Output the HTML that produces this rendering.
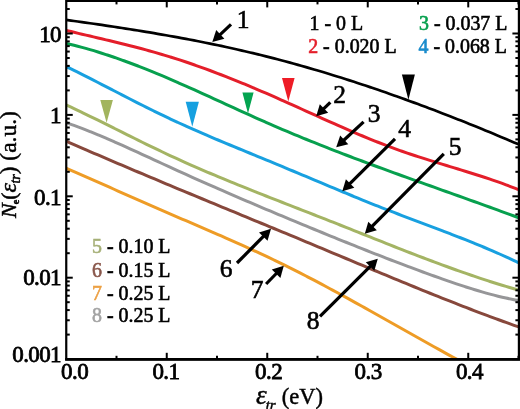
<!DOCTYPE html>
<html><head><meta charset="utf-8"><style>html,body{margin:0;padding:0;background:#fff;}svg{display:block;}</style></head>
<body><svg width="520" height="409" viewBox="0 0 520 409">
<rect width="520" height="409" fill="#fff"/>
<defs><clipPath id="c"><rect x="66" y="0" width="453" height="360"/></clipPath></defs>
<g clip-path="url(#c)" fill="none" stroke-width="3" stroke-linejoin="round" stroke-linecap="round">
<path d="M66.00,168.16 C67.33,168.74 71.33,170.48 74.00,171.64 C76.67,172.80 79.33,173.97 82.00,175.14 C84.67,176.31 87.33,177.48 90.00,178.65 C92.67,179.83 95.33,181.00 98.00,182.18 C100.67,183.36 103.33,184.53 106.00,185.71 C108.67,186.89 111.33,188.07 114.00,189.25 C116.67,190.43 119.33,191.61 122.00,192.79 C124.67,193.97 127.33,195.15 130.00,196.33 C132.67,197.50 135.33,198.68 138.00,199.86 C140.67,201.03 143.33,202.21 146.00,203.38 C148.67,204.55 151.33,205.72 154.00,206.88 C156.67,208.05 159.33,209.22 162.00,210.38 C164.67,211.54 167.33,212.69 170.00,213.85 C172.67,215.00 175.33,216.15 178.00,217.30 C180.67,218.45 183.33,219.59 186.00,220.74 C188.67,221.89 191.33,223.03 194.00,224.18 C196.67,225.33 199.33,226.47 202.00,227.62 C204.67,228.77 207.33,229.92 210.00,231.07 C212.67,232.23 215.33,233.38 218.00,234.55 C220.67,235.71 223.33,236.87 226.00,238.04 C228.67,239.22 231.33,240.39 234.00,241.58 C236.67,242.76 239.33,243.95 242.00,245.15 C244.67,246.35 247.33,247.55 250.00,248.77 C252.67,249.99 255.33,251.21 258.00,252.45 C260.67,253.68 263.33,254.93 266.00,256.19 C268.67,257.45 271.33,258.72 274.00,260.00 C276.67,261.28 279.33,262.58 282.00,263.89 C284.67,265.20 287.33,266.52 290.00,267.86 C292.67,269.19 295.33,270.54 298.00,271.90 C300.67,273.26 303.33,274.63 306.00,276.01 C308.67,277.39 311.33,278.78 314.00,280.19 C316.67,281.59 319.33,283.00 322.00,284.42 C324.67,285.84 327.33,287.27 330.00,288.70 C332.67,290.14 335.33,291.58 338.00,293.04 C340.67,294.49 343.33,295.94 346.00,297.41 C348.67,298.87 351.33,300.34 354.00,301.82 C356.67,303.29 359.33,304.77 362.00,306.26 C364.67,307.74 367.33,309.23 370.00,310.72 C372.67,312.22 375.33,313.71 378.00,315.21 C380.67,316.71 383.33,318.21 386.00,319.71 C388.67,321.21 391.33,322.72 394.00,324.22 C396.67,325.72 399.33,327.23 402.00,328.73 C404.67,330.24 407.33,331.74 410.00,333.24 C412.67,334.75 415.33,336.25 418.00,337.75 C420.67,339.25 423.33,340.74 426.00,342.24 C428.67,343.73 431.33,345.22 434.00,346.71 C436.67,348.20 439.33,349.68 442.00,351.16 C444.67,352.64 447.50,354.20 450.00,355.58 C452.50,356.96 455.83,358.78 457.00,359.42" stroke="#ee9c26" stroke-width="3.0"/>
<path d="M66.00,141.10 C67.33,141.68 71.33,143.43 74.00,144.59 C76.67,145.75 79.33,146.91 82.00,148.07 C84.67,149.23 87.33,150.38 90.00,151.53 C92.67,152.68 95.33,153.83 98.00,154.98 C100.67,156.12 103.33,157.27 106.00,158.41 C108.67,159.55 111.33,160.69 114.00,161.83 C116.67,162.96 119.33,164.10 122.00,165.23 C124.67,166.36 127.33,167.49 130.00,168.62 C132.67,169.75 135.33,170.88 138.00,172.00 C140.67,173.13 143.33,174.25 146.00,175.37 C148.67,176.50 151.33,177.62 154.00,178.74 C156.67,179.85 159.33,180.97 162.00,182.09 C164.67,183.20 167.33,184.32 170.00,185.43 C172.67,186.54 175.33,187.65 178.00,188.77 C180.67,189.88 183.33,190.99 186.00,192.09 C188.67,193.20 191.33,194.31 194.00,195.42 C196.67,196.52 199.33,197.63 202.00,198.74 C204.67,199.84 207.33,200.95 210.00,202.05 C212.67,203.15 215.33,204.26 218.00,205.36 C220.67,206.46 223.33,207.57 226.00,208.67 C228.67,209.77 231.33,210.87 234.00,211.97 C236.67,213.08 239.33,214.18 242.00,215.28 C244.67,216.38 247.33,217.48 250.00,218.58 C252.67,219.69 255.33,220.79 258.00,221.89 C260.67,222.99 263.33,224.09 266.00,225.20 C268.67,226.30 271.33,227.40 274.00,228.51 C276.67,229.61 279.33,230.71 282.00,231.82 C284.67,232.92 287.33,234.03 290.00,235.13 C292.67,236.24 295.33,237.35 298.00,238.45 C300.67,239.56 303.33,240.67 306.00,241.78 C308.67,242.89 311.33,244.00 314.00,245.11 C316.67,246.22 319.33,247.34 322.00,248.45 C324.67,249.57 327.33,250.68 330.00,251.80 C332.67,252.91 335.33,254.03 338.00,255.15 C340.67,256.26 343.33,257.38 346.00,258.50 C348.67,259.62 351.33,260.73 354.00,261.85 C356.67,262.97 359.33,264.08 362.00,265.20 C364.67,266.32 367.33,267.43 370.00,268.54 C372.67,269.66 375.33,270.77 378.00,271.88 C380.67,272.99 383.33,274.10 386.00,275.21 C388.67,276.32 391.33,277.42 394.00,278.53 C396.67,279.63 399.33,280.73 402.00,281.83 C404.67,282.92 407.33,284.02 410.00,285.11 C412.67,286.20 415.33,287.29 418.00,288.38 C420.67,289.47 423.33,290.55 426.00,291.63 C428.67,292.70 431.33,293.78 434.00,294.85 C436.67,295.92 439.33,296.98 442.00,298.05 C444.67,299.11 447.33,300.16 450.00,301.21 C452.67,302.27 455.33,303.31 458.00,304.35 C460.67,305.39 463.33,306.43 466.00,307.46 C468.67,308.49 471.33,309.51 474.00,310.53 C476.67,311.55 479.33,312.56 482.00,313.57 C484.67,314.57 487.33,315.57 490.00,316.56 C492.67,317.55 495.33,318.54 498.00,319.51 C500.67,320.49 503.33,321.46 506.00,322.42 C508.67,323.39 512.00,324.57 514.00,325.29 C516.00,326.00 517.33,326.46 518.00,326.70" stroke="#87483c" stroke-width="3.0"/>
<path d="M66.00,122.57 C67.33,123.05 71.33,124.44 74.00,125.42 C76.67,126.39 79.33,127.39 82.00,128.42 C84.67,129.44 87.33,130.49 90.00,131.56 C92.67,132.63 95.33,133.72 98.00,134.82 C100.67,135.93 103.33,137.06 106.00,138.20 C108.67,139.34 111.33,140.50 114.00,141.66 C116.67,142.83 119.33,144.02 122.00,145.21 C124.67,146.40 127.33,147.60 130.00,148.81 C132.67,150.02 135.33,151.24 138.00,152.46 C140.67,153.68 143.33,154.91 146.00,156.13 C148.67,157.36 151.33,158.59 154.00,159.82 C156.67,161.05 159.33,162.28 162.00,163.51 C164.67,164.73 167.33,165.96 170.00,167.17 C172.67,168.39 175.33,169.60 178.00,170.81 C180.67,172.02 183.33,173.23 186.00,174.43 C188.67,175.63 191.33,176.82 194.00,178.01 C196.67,179.21 199.33,180.39 202.00,181.58 C204.67,182.76 207.33,183.94 210.00,185.11 C212.67,186.29 215.33,187.46 218.00,188.63 C220.67,189.80 223.33,190.96 226.00,192.12 C228.67,193.28 231.33,194.44 234.00,195.59 C236.67,196.74 239.33,197.89 242.00,199.04 C244.67,200.19 247.33,201.33 250.00,202.47 C252.67,203.61 255.33,204.74 258.00,205.88 C260.67,207.01 263.33,208.14 266.00,209.26 C268.67,210.39 271.33,211.51 274.00,212.63 C276.67,213.76 279.33,214.87 282.00,215.99 C284.67,217.10 287.33,218.21 290.00,219.32 C292.67,220.43 295.33,221.54 298.00,222.64 C300.67,223.75 303.33,224.85 306.00,225.95 C308.67,227.05 311.33,228.14 314.00,229.24 C316.67,230.33 319.33,231.42 322.00,232.51 C324.67,233.60 327.33,234.69 330.00,235.77 C332.67,236.86 335.33,237.94 338.00,239.02 C340.67,240.10 343.33,241.18 346.00,242.25 C348.67,243.33 351.33,244.40 354.00,245.47 C356.67,246.53 359.33,247.60 362.00,248.66 C364.67,249.72 367.33,250.77 370.00,251.82 C372.67,252.87 375.33,253.92 378.00,254.96 C380.67,256.01 383.33,257.04 386.00,258.08 C388.67,259.11 391.33,260.14 394.00,261.16 C396.67,262.18 399.33,263.19 402.00,264.20 C404.67,265.21 407.33,266.22 410.00,267.21 C412.67,268.21 415.33,269.20 418.00,270.19 C420.67,271.17 423.33,272.15 426.00,273.12 C428.67,274.09 431.33,275.05 434.00,276.00 C436.67,276.96 439.33,277.91 442.00,278.85 C444.67,279.79 447.33,280.72 450.00,281.63 C452.67,282.55 455.33,283.46 458.00,284.35 C460.67,285.24 463.33,286.12 466.00,286.98 C468.67,287.83 471.33,288.67 474.00,289.49 C476.67,290.31 479.33,291.11 482.00,291.87 C484.67,292.64 487.33,293.39 490.00,294.11 C492.67,294.83 495.33,295.52 498.00,296.18 C500.67,296.83 503.33,297.46 506.00,298.05 C508.67,298.65 512.00,299.32 514.00,299.72 C516.00,300.13 517.33,300.35 518.00,300.48" stroke="#969698" stroke-width="3.0"/>
<path d="M66.00,104.87 C67.33,105.50 71.33,107.35 74.00,108.61 C76.67,109.87 79.33,111.14 82.00,112.42 C84.67,113.70 87.33,115.00 90.00,116.30 C92.67,117.60 95.33,118.91 98.00,120.22 C100.67,121.54 103.33,122.86 106.00,124.18 C108.67,125.51 111.33,126.84 114.00,128.17 C116.67,129.49 119.33,130.83 122.00,132.16 C124.67,133.49 127.33,134.82 130.00,136.14 C132.67,137.47 135.33,138.79 138.00,140.11 C140.67,141.43 143.33,142.74 146.00,144.05 C148.67,145.35 151.33,146.65 154.00,147.94 C156.67,149.22 159.33,150.50 162.00,151.77 C164.67,153.03 167.33,154.29 170.00,155.53 C172.67,156.77 175.33,157.99 178.00,159.21 C180.67,160.42 183.33,161.62 186.00,162.81 C188.67,164.01 191.33,165.18 194.00,166.35 C196.67,167.52 199.33,168.68 202.00,169.83 C204.67,170.98 207.33,172.12 210.00,173.25 C212.67,174.38 215.33,175.50 218.00,176.62 C220.67,177.73 223.33,178.84 226.00,179.94 C228.67,181.04 231.33,182.13 234.00,183.22 C236.67,184.30 239.33,185.38 242.00,186.46 C244.67,187.53 247.33,188.60 250.00,189.66 C252.67,190.73 255.33,191.79 258.00,192.84 C260.67,193.90 263.33,194.95 266.00,196.00 C268.67,197.05 271.33,198.09 274.00,199.14 C276.67,200.18 279.33,201.22 282.00,202.26 C284.67,203.30 287.33,204.34 290.00,205.38 C292.67,206.42 295.33,207.46 298.00,208.49 C300.67,209.53 303.33,210.57 306.00,211.61 C308.67,212.65 311.33,213.69 314.00,214.74 C316.67,215.78 319.33,216.82 322.00,217.87 C324.67,218.92 327.33,219.97 330.00,221.03 C332.67,222.08 335.33,223.14 338.00,224.20 C340.67,225.25 343.33,226.32 346.00,227.38 C348.67,228.44 351.33,229.51 354.00,230.57 C356.67,231.63 359.33,232.70 362.00,233.76 C364.67,234.83 367.33,235.89 370.00,236.96 C372.67,238.02 375.33,239.08 378.00,240.14 C380.67,241.20 383.33,242.26 386.00,243.32 C388.67,244.37 391.33,245.43 394.00,246.48 C396.67,247.53 399.33,248.57 402.00,249.62 C404.67,250.66 407.33,251.70 410.00,252.73 C412.67,253.76 415.33,254.79 418.00,255.81 C420.67,256.84 423.33,257.85 426.00,258.86 C428.67,259.87 431.33,260.88 434.00,261.87 C436.67,262.87 439.33,263.86 442.00,264.84 C444.67,265.82 447.33,266.79 450.00,267.76 C452.67,268.72 455.33,269.68 458.00,270.62 C460.67,271.57 463.33,272.50 466.00,273.43 C468.67,274.35 471.33,275.27 474.00,276.17 C476.67,277.08 479.33,277.97 482.00,278.85 C484.67,279.73 487.33,280.60 490.00,281.45 C492.67,282.31 495.33,283.15 498.00,283.98 C500.67,284.81 503.33,285.62 506.00,286.43 C508.67,287.23 512.00,288.20 514.00,288.78 C516.00,289.37 517.33,289.74 518.00,289.93" stroke="#a4b464" stroke-width="3.0"/>
<path d="M66.00,66.47 C67.33,67.12 71.33,69.07 74.00,70.38 C76.67,71.70 79.33,73.03 82.00,74.36 C84.67,75.70 87.33,77.05 90.00,78.41 C92.67,79.76 95.33,81.12 98.00,82.49 C100.67,83.86 103.33,85.23 106.00,86.60 C108.67,87.98 111.33,89.36 114.00,90.73 C116.67,92.11 119.33,93.49 122.00,94.86 C124.67,96.23 127.33,97.61 130.00,98.97 C132.67,100.34 135.33,101.70 138.00,103.05 C140.67,104.41 143.33,105.75 146.00,107.09 C148.67,108.42 151.33,109.75 154.00,111.06 C156.67,112.38 159.33,113.68 162.00,114.96 C164.67,116.25 167.33,117.52 170.00,118.77 C172.67,120.03 175.33,121.27 178.00,122.49 C180.67,123.72 183.33,124.93 186.00,126.12 C188.67,127.32 191.33,128.51 194.00,129.68 C196.67,130.86 199.33,132.02 202.00,133.18 C204.67,134.33 207.33,135.47 210.00,136.61 C212.67,137.75 215.33,138.88 218.00,140.00 C220.67,141.12 223.33,142.24 226.00,143.35 C228.67,144.46 231.33,145.56 234.00,146.67 C236.67,147.77 239.33,148.87 242.00,149.96 C244.67,151.06 247.33,152.15 250.00,153.25 C252.67,154.34 255.33,155.43 258.00,156.53 C260.67,157.62 263.33,158.71 266.00,159.81 C268.67,160.91 271.33,162.01 274.00,163.11 C276.67,164.21 279.33,165.32 282.00,166.43 C284.67,167.54 287.33,168.65 290.00,169.77 C292.67,170.88 295.33,172.00 298.00,173.12 C300.67,174.24 303.33,175.36 306.00,176.48 C308.67,177.60 311.33,178.72 314.00,179.84 C316.67,180.96 319.33,182.09 322.00,183.20 C324.67,184.32 327.33,185.44 330.00,186.56 C332.67,187.67 335.33,188.79 338.00,189.90 C340.67,191.01 343.33,192.12 346.00,193.22 C348.67,194.32 351.33,195.43 354.00,196.52 C356.67,197.61 359.33,198.70 362.00,199.79 C364.67,200.87 367.33,201.95 370.00,203.02 C372.67,204.09 375.33,205.16 378.00,206.22 C380.67,207.27 383.33,208.32 386.00,209.37 C388.67,210.41 391.33,211.44 394.00,212.47 C396.67,213.49 399.33,214.51 402.00,215.53 C404.67,216.54 407.33,217.55 410.00,218.56 C412.67,219.57 415.33,220.57 418.00,221.58 C420.67,222.58 423.33,223.58 426.00,224.59 C428.67,225.59 431.33,226.60 434.00,227.60 C436.67,228.61 439.33,229.62 442.00,230.64 C444.67,231.65 447.33,232.67 450.00,233.70 C452.67,234.72 455.33,235.76 458.00,236.80 C460.67,237.84 463.33,238.89 466.00,239.95 C468.67,241.01 471.33,242.08 474.00,243.16 C476.67,244.24 479.33,245.34 482.00,246.45 C484.67,247.56 487.33,248.68 490.00,249.82 C492.67,250.96 495.33,252.11 498.00,253.28 C500.67,254.45 503.33,255.64 506.00,256.85 C508.67,258.06 512.00,259.61 514.00,260.55 C516.00,261.48 517.33,262.12 518.00,262.44" stroke="#18a0e0" stroke-width="3.0"/>
<path d="M66.00,43.40 C67.33,43.71 71.33,44.64 74.00,45.31 C76.67,45.97 79.33,46.67 82.00,47.39 C84.67,48.11 87.33,48.86 90.00,49.63 C92.67,50.40 95.33,51.20 98.00,52.02 C100.67,52.84 103.33,53.69 106.00,54.56 C108.67,55.43 111.33,56.32 114.00,57.23 C116.67,58.15 119.33,59.08 122.00,60.04 C124.67,61.00 127.33,61.97 130.00,62.97 C132.67,63.96 135.33,64.98 138.00,66.01 C140.67,67.04 143.33,68.09 146.00,69.16 C148.67,70.22 151.33,71.31 154.00,72.40 C156.67,73.50 159.33,74.61 162.00,75.73 C164.67,76.86 167.33,78.00 170.00,79.14 C172.67,80.29 175.33,81.45 178.00,82.62 C180.67,83.78 183.33,84.96 186.00,86.14 C188.67,87.33 191.33,88.52 194.00,89.72 C196.67,90.92 199.33,92.12 202.00,93.33 C204.67,94.54 207.33,95.76 210.00,96.97 C212.67,98.19 215.33,99.41 218.00,100.63 C220.67,101.85 223.33,103.07 226.00,104.29 C228.67,105.51 231.33,106.73 234.00,107.94 C236.67,109.16 239.33,110.38 242.00,111.59 C244.67,112.80 247.33,114.01 250.00,115.21 C252.67,116.41 255.33,117.61 258.00,118.80 C260.67,119.98 263.33,121.17 266.00,122.34 C268.67,123.51 271.33,124.67 274.00,125.83 C276.67,126.98 279.33,128.13 282.00,129.26 C284.67,130.40 287.33,131.52 290.00,132.64 C292.67,133.76 295.33,134.86 298.00,135.97 C300.67,137.07 303.33,138.16 306.00,139.24 C308.67,140.33 311.33,141.40 314.00,142.47 C316.67,143.54 319.33,144.61 322.00,145.66 C324.67,146.72 327.33,147.76 330.00,148.81 C332.67,149.85 335.33,150.89 338.00,151.91 C340.67,152.94 343.33,153.97 346.00,154.99 C348.67,156.01 351.33,157.02 354.00,158.03 C356.67,159.03 359.33,160.04 362.00,161.03 C364.67,162.03 367.33,163.03 370.00,164.02 C372.67,165.01 375.33,165.99 378.00,166.97 C380.67,167.95 383.33,168.93 386.00,169.91 C388.67,170.88 391.33,171.85 394.00,172.82 C396.67,173.79 399.33,174.75 402.00,175.72 C404.67,176.68 407.33,177.64 410.00,178.60 C412.67,179.56 415.33,180.52 418.00,181.47 C420.67,182.43 423.33,183.38 426.00,184.34 C428.67,185.29 431.33,186.24 434.00,187.19 C436.67,188.15 439.33,189.10 442.00,190.05 C444.67,191.00 447.33,191.95 450.00,192.90 C452.67,193.85 455.33,194.80 458.00,195.75 C460.67,196.71 463.33,197.66 466.00,198.61 C468.67,199.57 471.33,200.52 474.00,201.48 C476.67,202.44 479.33,203.40 482.00,204.36 C484.67,205.32 487.33,206.28 490.00,207.25 C492.67,208.21 495.33,209.18 498.00,210.15 C500.67,211.12 503.33,212.10 506.00,213.08 C508.67,214.05 512.00,215.28 514.00,216.02 C516.00,216.76 517.33,217.25 518.00,217.50" stroke="#07a04e" stroke-width="3.0"/>
<path d="M66.00,30.37 C67.33,30.69 71.33,31.65 74.00,32.29 C76.67,32.93 79.33,33.56 82.00,34.19 C84.67,34.82 87.33,35.45 90.00,36.08 C92.67,36.70 95.33,37.33 98.00,37.96 C100.67,38.59 103.33,39.22 106.00,39.86 C108.67,40.49 111.33,41.13 114.00,41.78 C116.67,42.42 119.33,43.07 122.00,43.73 C124.67,44.39 127.33,45.05 130.00,45.73 C132.67,46.41 135.33,47.09 138.00,47.79 C140.67,48.49 143.33,49.20 146.00,49.92 C148.67,50.65 151.33,51.39 154.00,52.14 C156.67,52.89 159.33,53.66 162.00,54.45 C164.67,55.24 167.33,56.04 170.00,56.87 C172.67,57.69 175.33,58.54 178.00,59.40 C180.67,60.26 183.33,61.14 186.00,62.03 C188.67,62.93 191.33,63.84 194.00,64.77 C196.67,65.70 199.33,66.64 202.00,67.60 C204.67,68.57 207.33,69.54 210.00,70.53 C212.67,71.52 215.33,72.53 218.00,73.55 C220.67,74.57 223.33,75.60 226.00,76.64 C228.67,77.69 231.33,78.75 234.00,79.82 C236.67,80.89 239.33,81.98 242.00,83.07 C244.67,84.17 247.33,85.27 250.00,86.39 C252.67,87.51 255.33,88.63 258.00,89.77 C260.67,90.91 263.33,92.06 266.00,93.21 C268.67,94.37 271.33,95.54 274.00,96.71 C276.67,97.89 279.33,99.07 282.00,100.26 C284.67,101.44 287.33,102.64 290.00,103.84 C292.67,105.03 295.33,106.24 298.00,107.44 C300.67,108.64 303.33,109.85 306.00,111.05 C308.67,112.26 311.33,113.47 314.00,114.67 C316.67,115.87 319.33,117.08 322.00,118.28 C324.67,119.47 327.33,120.67 330.00,121.86 C332.67,123.05 335.33,124.23 338.00,125.41 C340.67,126.59 343.33,127.76 346.00,128.92 C348.67,130.08 351.33,131.23 354.00,132.36 C356.67,133.50 359.33,134.63 362.00,135.75 C364.67,136.86 367.33,137.96 370.00,139.05 C372.67,140.13 375.33,141.20 378.00,142.26 C380.67,143.31 383.33,144.35 386.00,145.37 C388.67,146.38 391.33,147.38 394.00,148.36 C396.67,149.34 399.33,150.29 402.00,151.23 C404.67,152.17 407.33,153.08 410.00,153.98 C412.67,154.87 415.33,155.75 418.00,156.62 C420.67,157.49 423.33,158.34 426.00,159.18 C428.67,160.02 431.33,160.85 434.00,161.68 C436.67,162.50 439.33,163.32 442.00,164.13 C444.67,164.95 447.33,165.76 450.00,166.57 C452.67,167.38 455.33,168.19 458.00,169.01 C460.67,169.82 463.33,170.64 466.00,171.47 C468.67,172.29 471.33,173.12 474.00,173.97 C476.67,174.81 479.33,175.66 482.00,176.53 C484.67,177.40 487.33,178.28 490.00,179.18 C492.67,180.08 495.33,180.99 498.00,181.93 C500.67,182.87 503.33,183.82 506.00,184.81 C508.67,185.79 512.00,187.06 514.00,187.83 C516.00,188.60 517.33,189.14 518.00,189.40" stroke="#e41e2a" stroke-width="3.0"/>
<path d="M66.00,19.89 C67.33,20.07 71.33,20.62 74.00,20.99 C76.67,21.36 79.33,21.73 82.00,22.11 C84.67,22.48 87.33,22.86 90.00,23.25 C92.67,23.63 95.33,24.01 98.00,24.40 C100.67,24.79 103.33,25.18 106.00,25.58 C108.67,25.97 111.33,26.37 114.00,26.78 C116.67,27.18 119.33,27.59 122.00,28.00 C124.67,28.41 127.33,28.83 130.00,29.25 C132.67,29.67 135.33,30.10 138.00,30.53 C140.67,30.96 143.33,31.40 146.00,31.84 C148.67,32.28 151.33,32.73 154.00,33.18 C156.67,33.63 159.33,34.09 162.00,34.55 C164.67,35.02 167.33,35.49 170.00,35.96 C172.67,36.44 175.33,36.92 178.00,37.41 C180.67,37.90 183.33,38.40 186.00,38.90 C188.67,39.40 191.33,39.91 194.00,40.43 C196.67,40.94 199.33,41.47 202.00,42.00 C204.67,42.53 207.33,43.07 210.00,43.61 C212.67,44.16 215.33,44.72 218.00,45.28 C220.67,45.84 223.33,46.41 226.00,46.99 C228.67,47.57 231.33,48.16 234.00,48.75 C236.67,49.35 239.33,49.95 242.00,50.57 C244.67,51.18 247.33,51.80 250.00,52.44 C252.67,53.07 255.33,53.71 258.00,54.36 C260.67,55.01 263.33,55.67 266.00,56.35 C268.67,57.02 271.33,57.70 274.00,58.39 C276.67,59.08 279.33,59.78 282.00,60.48 C284.67,61.19 287.33,61.91 290.00,62.64 C292.67,63.37 295.33,64.10 298.00,64.85 C300.67,65.60 303.33,66.35 306.00,67.12 C308.67,67.88 311.33,68.65 314.00,69.44 C316.67,70.22 319.33,71.01 322.00,71.81 C324.67,72.61 327.33,73.42 330.00,74.23 C332.67,75.05 335.33,75.87 338.00,76.71 C340.67,77.54 343.33,78.38 346.00,79.23 C348.67,80.08 351.33,80.94 354.00,81.81 C356.67,82.68 359.33,83.55 362.00,84.43 C364.67,85.32 367.33,86.21 370.00,87.11 C372.67,88.00 375.33,88.91 378.00,89.82 C380.67,90.74 383.33,91.66 386.00,92.59 C388.67,93.52 391.33,94.46 394.00,95.40 C396.67,96.34 399.33,97.30 402.00,98.25 C404.67,99.21 407.33,100.18 410.00,101.15 C412.67,102.13 415.33,103.11 418.00,104.09 C420.67,105.08 423.33,106.07 426.00,107.08 C428.67,108.08 431.33,109.08 434.00,110.10 C436.67,111.11 439.33,112.13 442.00,113.16 C444.67,114.19 447.33,115.22 450.00,116.26 C452.67,117.30 455.33,118.35 458.00,119.41 C460.67,120.46 463.33,121.52 466.00,122.58 C468.67,123.65 471.33,124.72 474.00,125.80 C476.67,126.87 479.33,127.96 482.00,129.05 C484.67,130.14 487.33,131.23 490.00,132.33 C492.67,133.43 495.33,134.54 498.00,135.65 C500.67,136.76 503.33,137.88 506.00,139.00 C508.67,140.13 512.00,141.54 514.00,142.39 C516.00,143.23 517.33,143.81 518.00,144.09" stroke="#000000" stroke-width="2.7"/>
</g>
<polygon points="100.3,100.0 112.9,100.0 106.6,122.8" fill="#a2b45e"/>
<polygon points="185.7,101.7 198.9,101.7 192.3,126.7" fill="#16a0e0"/>
<polygon points="242.4,92.5 253.6,92.5 248.0,113.5" fill="#04a450"/>
<polygon points="282.0,78.0 294.6,78.0 288.3,101.5" fill="#ee1c26"/>
<polygon points="401.9,74.4 414.9,74.4 408.4,99.8" fill="#000000"/>
<line x1="231.0" y1="24.3" x2="219.6" y2="35.1" stroke="#000" stroke-width="3.2"/>
<polygon points="212.3,42.0 216.2,30.1 224.4,38.8" fill="#000"/>
<line x1="330.3" y1="102.3" x2="323.3" y2="109.2" stroke="#000" stroke-width="3.2"/>
<polygon points="316.2,116.2 319.8,104.2 328.2,112.8" fill="#000"/>
<line x1="363.6" y1="121.9" x2="343.5" y2="140.5" stroke="#000" stroke-width="3.2"/>
<polygon points="336.2,147.3 340.2,135.4 348.3,144.2" fill="#000"/>
<line x1="395.0" y1="138.8" x2="349.4" y2="184.2" stroke="#000" stroke-width="3.2"/>
<polygon points="342.3,191.3 345.9,179.3 354.3,187.8" fill="#000"/>
<line x1="443.8" y1="153.8" x2="371.8" y2="226.7" stroke="#000" stroke-width="3.2"/>
<polygon points="364.8,233.8 368.3,221.8 376.8,230.2" fill="#000"/>
<line x1="237.0" y1="263.0" x2="263.9" y2="235.9" stroke="#000" stroke-width="3.2"/>
<polygon points="271.0,228.8 267.5,240.8 259.0,232.4" fill="#000"/>
<line x1="266.1" y1="284.0" x2="276.8" y2="273.0" stroke="#000" stroke-width="3.2"/>
<polygon points="283.8,265.8 280.4,277.9 271.8,269.5" fill="#000"/>
<line x1="320.0" y1="316.4" x2="370.7" y2="265.8" stroke="#000" stroke-width="3.2"/>
<polygon points="377.8,258.7 374.3,270.7 365.8,262.2" fill="#000"/>
<rect x="66.25" y="0.90" width="452.65" height="358.40" fill="none" stroke="#000" stroke-width="2.2"/>
<line x1="65.15" y1="359.4" x2="520.00" y2="359.4" stroke="#000" stroke-width="2.8"/>
<g stroke="#000" stroke-width="2"><line x1="116.50" y1="359.30" x2="116.50" y2="355.80"/><line x1="116.50" y1="0.90" x2="116.50" y2="4.40"/><line x1="166.75" y1="359.30" x2="166.75" y2="352.80"/><line x1="166.75" y1="0.90" x2="166.75" y2="7.40"/><line x1="217.00" y1="359.30" x2="217.00" y2="355.80"/><line x1="217.00" y1="0.90" x2="217.00" y2="4.40"/><line x1="267.25" y1="359.30" x2="267.25" y2="352.80"/><line x1="267.25" y1="0.90" x2="267.25" y2="7.40"/><line x1="317.50" y1="359.30" x2="317.50" y2="355.80"/><line x1="317.50" y1="0.90" x2="317.50" y2="4.40"/><line x1="367.75" y1="359.30" x2="367.75" y2="352.80"/><line x1="367.75" y1="0.90" x2="367.75" y2="7.40"/><line x1="418.00" y1="359.30" x2="418.00" y2="355.80"/><line x1="418.00" y1="0.90" x2="418.00" y2="4.40"/><line x1="468.25" y1="359.30" x2="468.25" y2="352.80"/><line x1="468.25" y1="0.90" x2="468.25" y2="7.40"/><line x1="518.50" y1="359.30" x2="518.50" y2="355.80"/><line x1="518.50" y1="0.90" x2="518.50" y2="4.40"/><line x1="66.25" y1="359.10" x2="72.75" y2="359.10"/><line x1="518.90" y1="359.10" x2="512.40" y2="359.10"/><line x1="66.25" y1="334.60" x2="69.75" y2="334.60"/><line x1="518.90" y1="334.60" x2="515.40" y2="334.60"/><line x1="66.25" y1="320.26" x2="69.75" y2="320.26"/><line x1="518.90" y1="320.26" x2="515.40" y2="320.26"/><line x1="66.25" y1="310.09" x2="69.75" y2="310.09"/><line x1="518.90" y1="310.09" x2="515.40" y2="310.09"/><line x1="66.25" y1="302.20" x2="69.75" y2="302.20"/><line x1="518.90" y1="302.20" x2="515.40" y2="302.20"/><line x1="66.25" y1="295.76" x2="69.75" y2="295.76"/><line x1="518.90" y1="295.76" x2="515.40" y2="295.76"/><line x1="66.25" y1="290.31" x2="69.75" y2="290.31"/><line x1="518.90" y1="290.31" x2="515.40" y2="290.31"/><line x1="66.25" y1="285.59" x2="69.75" y2="285.59"/><line x1="518.90" y1="285.59" x2="515.40" y2="285.59"/><line x1="66.25" y1="281.42" x2="69.75" y2="281.42"/><line x1="518.90" y1="281.42" x2="515.40" y2="281.42"/><line x1="66.25" y1="277.70" x2="72.75" y2="277.70"/><line x1="518.90" y1="277.70" x2="512.40" y2="277.70"/><line x1="66.25" y1="253.20" x2="69.75" y2="253.20"/><line x1="518.90" y1="253.20" x2="515.40" y2="253.20"/><line x1="66.25" y1="238.86" x2="69.75" y2="238.86"/><line x1="518.90" y1="238.86" x2="515.40" y2="238.86"/><line x1="66.25" y1="228.69" x2="69.75" y2="228.69"/><line x1="518.90" y1="228.69" x2="515.40" y2="228.69"/><line x1="66.25" y1="220.80" x2="69.75" y2="220.80"/><line x1="518.90" y1="220.80" x2="515.40" y2="220.80"/><line x1="66.25" y1="214.36" x2="69.75" y2="214.36"/><line x1="518.90" y1="214.36" x2="515.40" y2="214.36"/><line x1="66.25" y1="208.91" x2="69.75" y2="208.91"/><line x1="518.90" y1="208.91" x2="515.40" y2="208.91"/><line x1="66.25" y1="204.19" x2="69.75" y2="204.19"/><line x1="518.90" y1="204.19" x2="515.40" y2="204.19"/><line x1="66.25" y1="200.02" x2="69.75" y2="200.02"/><line x1="518.90" y1="200.02" x2="515.40" y2="200.02"/><line x1="66.25" y1="196.30" x2="72.75" y2="196.30"/><line x1="518.90" y1="196.30" x2="512.40" y2="196.30"/><line x1="66.25" y1="171.80" x2="69.75" y2="171.80"/><line x1="518.90" y1="171.80" x2="515.40" y2="171.80"/><line x1="66.25" y1="157.46" x2="69.75" y2="157.46"/><line x1="518.90" y1="157.46" x2="515.40" y2="157.46"/><line x1="66.25" y1="147.29" x2="69.75" y2="147.29"/><line x1="518.90" y1="147.29" x2="515.40" y2="147.29"/><line x1="66.25" y1="139.40" x2="69.75" y2="139.40"/><line x1="518.90" y1="139.40" x2="515.40" y2="139.40"/><line x1="66.25" y1="132.96" x2="69.75" y2="132.96"/><line x1="518.90" y1="132.96" x2="515.40" y2="132.96"/><line x1="66.25" y1="127.51" x2="69.75" y2="127.51"/><line x1="518.90" y1="127.51" x2="515.40" y2="127.51"/><line x1="66.25" y1="122.79" x2="69.75" y2="122.79"/><line x1="518.90" y1="122.79" x2="515.40" y2="122.79"/><line x1="66.25" y1="118.62" x2="69.75" y2="118.62"/><line x1="518.90" y1="118.62" x2="515.40" y2="118.62"/><line x1="66.25" y1="114.90" x2="72.75" y2="114.90"/><line x1="518.90" y1="114.90" x2="512.40" y2="114.90"/><line x1="66.25" y1="90.40" x2="69.75" y2="90.40"/><line x1="518.90" y1="90.40" x2="515.40" y2="90.40"/><line x1="66.25" y1="76.06" x2="69.75" y2="76.06"/><line x1="518.90" y1="76.06" x2="515.40" y2="76.06"/><line x1="66.25" y1="65.89" x2="69.75" y2="65.89"/><line x1="518.90" y1="65.89" x2="515.40" y2="65.89"/><line x1="66.25" y1="58.00" x2="69.75" y2="58.00"/><line x1="518.90" y1="58.00" x2="515.40" y2="58.00"/><line x1="66.25" y1="51.56" x2="69.75" y2="51.56"/><line x1="518.90" y1="51.56" x2="515.40" y2="51.56"/><line x1="66.25" y1="46.11" x2="69.75" y2="46.11"/><line x1="518.90" y1="46.11" x2="515.40" y2="46.11"/><line x1="66.25" y1="41.39" x2="69.75" y2="41.39"/><line x1="518.90" y1="41.39" x2="515.40" y2="41.39"/><line x1="66.25" y1="37.22" x2="69.75" y2="37.22"/><line x1="518.90" y1="37.22" x2="515.40" y2="37.22"/><line x1="66.25" y1="33.50" x2="72.75" y2="33.50"/><line x1="518.90" y1="33.50" x2="512.40" y2="33.50"/><line x1="66.25" y1="9.00" x2="69.75" y2="9.00"/><line x1="518.90" y1="9.00" x2="515.40" y2="9.00"/></g>
<g font-family="Liberation Serif, serif" fill="#000" stroke="#000" stroke-width="0.8" font-size="23" letter-spacing="-0.6"><text x="61" y="41.5" text-anchor="end">10</text><text x="61" y="122.9" text-anchor="end">1</text><text x="61" y="204.8" text-anchor="end">0.1</text><text x="61" y="285.2" text-anchor="end">0.01</text><text x="61" y="362.1" text-anchor="end">0.001</text><text x="74.6" y="378.6" text-anchor="middle">0.0</text><text x="165.9" y="378.6" text-anchor="middle">0.1</text><text x="268.6" y="378.6" text-anchor="middle">0.2</text><text x="368.1" y="378.6" text-anchor="middle">0.3</text><text x="469.4" y="378.6" text-anchor="middle">0.4</text></g>
<g font-family="Liberation Serif, serif" fill="#000" font-size="19.9" stroke-width="0.6"><text x="309.5" y="30.0"><tspan fill="#000" stroke="#000">1</tspan><tspan stroke="#000"> - 0 L</tspan></text><text x="308.2" y="52.5"><tspan fill="#e41e2a" stroke="#e41e2a">2</tspan><tspan stroke="#000"> - 0.020 L</tspan></text><text x="419.0" y="30.0"><tspan fill="#07a04e" stroke="#07a04e">3</tspan><tspan stroke="#000"> - 0.037 L</tspan></text><text x="418.5" y="52.5"><tspan fill="#1a8ccc" stroke="#1a8ccc">4</tspan><tspan stroke="#000"> - 0.068 L</tspan></text><text x="92.0" y="253.2"><tspan fill="#a6b078" stroke="#a6b078">5</tspan><tspan stroke="#000"> - 0.10 L</tspan></text><text x="92.0" y="276.5"><tspan fill="#8a584c" stroke="#8a584c">6</tspan><tspan stroke="#000"> - 0.15 L</tspan></text><text x="92.0" y="299.5"><tspan fill="#eca044" stroke="#eca044">7</tspan><tspan stroke="#000"> - 0.25 L</tspan></text><text x="92.0" y="322.4"><tspan fill="#a4a4a4" stroke="#a4a4a4">8</tspan><tspan stroke="#000"> - 0.25 L</tspan></text></g>
<g font-family="Liberation Serif, serif" fill="#000" stroke="#000" stroke-width="0.6" font-size="25.5"><text x="236.8" y="28.3">1</text><text x="333.3" y="103.0">2</text><text x="367.8" y="121.9">3</text><text x="398.3" y="137.3">4</text><text x="448.8" y="155.2">5</text><text x="219.8" y="277.2">6</text><text x="250.8" y="298.3">7</text><text x="306.8" y="329.0">8</text></g>
<text font-family="Liberation Serif, serif" x="256" y="403.6" font-size="22.5" stroke="#000" stroke-width="0.45"><tspan font-style="italic" font-size="27">&#949;</tspan><tspan font-style="italic" font-size="15" dy="6" dx="-1">tr</tspan><tspan dy="-6" dx="0.5"> (eV)</tspan></text>
<text font-family="Liberation Serif, serif" transform="translate(16,218) rotate(-90)" font-size="22" stroke="#000" stroke-width="0.45"><tspan font-style="italic">N</tspan><tspan font-size="10" dy="3" font-weight="bold" dx="-1">e</tspan><tspan dy="-3">(</tspan><tspan font-style="italic" font-size="24">&#949;</tspan><tspan font-style="italic" font-size="14" dy="4" dx="-0.5">tr</tspan><tspan dy="-4" font-size="23">)</tspan><tspan font-size="23.5"> (a.u.)</tspan></text>
</svg></body></html>
